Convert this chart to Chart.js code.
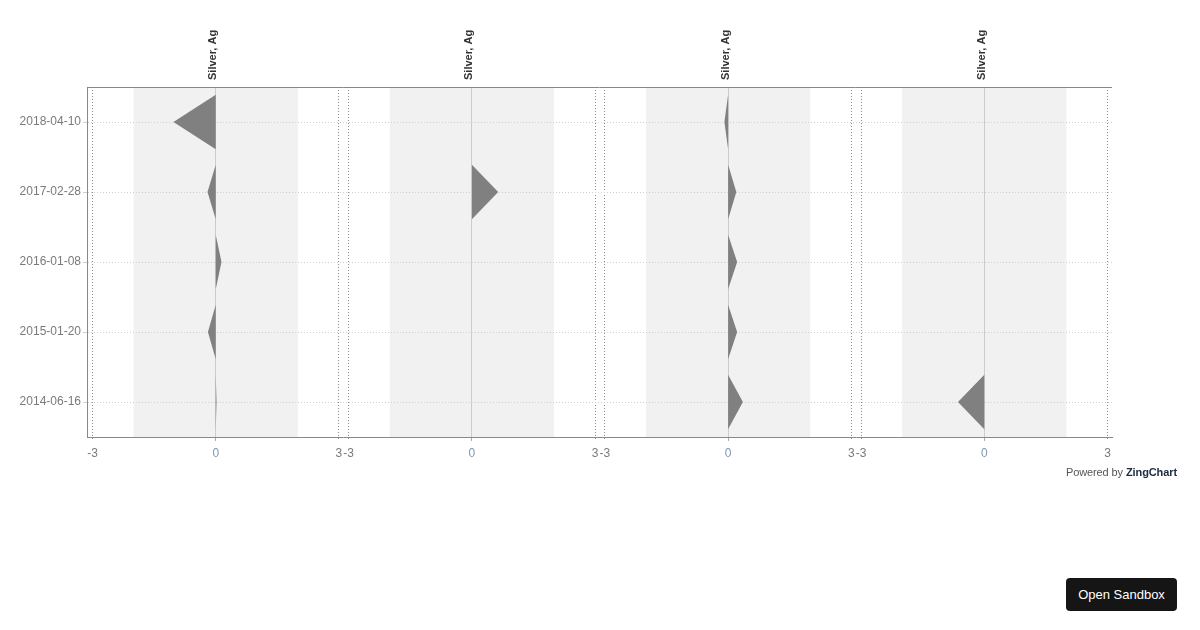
<!DOCTYPE html>
<html>
<head>
<meta charset="utf-8">
<script src="https://cdn.jsdelivr.net/npm/chart.js@4/dist/chart.umd.min.js"></script>
<style>
  html, body { margin: 0; padding: 0; background: #ffffff; overflow: hidden; }
  #wrap { position: relative; width: 1200px; height: 630px; }
  #c { position: absolute; left: 0; top: 0; }
  #powered { position: absolute; right: 23px; top: 466px; font: 11px "Liberation Sans", Arial, sans-serif; color: #555; letter-spacing: -0.1px; }
  #powered b { color: #1b2a3d; }
  #sandbox { position: absolute; left: 1066px; top: 578px; width: 111px; height: 33px; background: #151515; color: #fff;
    border-radius: 4px; font: 13px "Liberation Sans", Arial, sans-serif; line-height: 33px; text-align: center; }
</style>
</head>
<body>
<div id="wrap">
  <canvas id="c" width="1200" height="630"></canvas>
  <div id="powered">Powered by <b>ZingChart</b></div>
  <div id="sandbox">Open Sandbox</div>
</div>
<script>
// ---- data ----
const dates = ['2018-04-10', '2017-02-28', '2016-01-08', '2015-01-20', '2014-06-16'];
const panelTitles = ['Silver, Ag', 'Silver, Ag', 'Silver, Ag', 'Silver, Ag'];
const panel1 = [-1.03, -0.2, 0.14, -0.19, 0.02];
const panel2 = [0, 0.64, 0, 0, 0];
const panel3 = [-0.09, 0.2, 0.22, 0.22, 0.36];
const panel4 = [0, 0, 0, 0, -0.64];
const panelTickValues = [-3, 0, 3];
const panelTickLabels = ['-3', '0', '3'];
const bandRange = [-2, 2];

// ---- layout constants ----
const PANEL_SPAN = 6.237;
const X_MIN = -3.134;
const X_MAX = 21.82;
const HALF_H = 0.39;

const panels = [panel1, panel2, panel3, panel4];
const offsets = panels.map((_, i) => i * PANEL_SPAN);

const xTicks = [];
const xTickText = [];
const xTickZero = [];
offsets.forEach(off => {
  panelTickValues.forEach((v, k) => {
    xTicks.push(off + v);
    xTickText.push(panelTickLabels[k]);
    xTickZero.push(v === 0);
  });
});

const datasets = panels.map((vals, p) => ({
  data: vals.flatMap((v, i) => [
    { x: offsets[p], y: i + 0.5 - HALF_H },
    { x: offsets[p] + v, y: i + 0.5 },
    { x: offsets[p], y: i + 0.5 + HALF_H }
  ]),
  backgroundColor: '#808080',
  borderWidth: 0,
  pointRadius: 0,
  tension: 0,
  fill: 'shape'
}));

const decor = {
  id: 'decor',
  beforeDraw(chart) {
    const { ctx, chartArea: a, scales: { x } } = chart;
    ctx.save();
    ctx.fillStyle = '#f1f1f1';
    offsets.forEach(off => {
      const l = x.getPixelForValue(off + bandRange[0]);
      const r = x.getPixelForValue(off + bandRange[1]);
      ctx.fillRect(l, a.top, r - l, a.bottom - a.top);
    });
    ctx.restore();
  },
  afterDraw(chart) {
    const { ctx, chartArea: a, scales: { x } } = chart;
    ctx.save();
    ctx.strokeStyle = '#888888';
    ctx.lineWidth = 1;
    ctx.beginPath();
    ctx.moveTo(a.left, a.top + 0.5);
    ctx.lineTo(a.right, a.top + 0.5);
    ctx.stroke();
    ctx.fillStyle = '#333333';
    ctx.font = 'bold 11px "Liberation Sans", Arial, sans-serif';
    ctx.textAlign = 'left';
    ctx.textBaseline = 'middle';
    offsets.forEach((off, i) => {
      const px = x.getPixelForValue(off) - 2.5;
      ctx.save();
      ctx.translate(px, 80);
      ctx.rotate(-Math.PI / 2);
      ctx.fillText(panelTitles[i], 0, 0);
      ctx.restore();
    });
    ctx.restore();
  }
};

new Chart(document.getElementById('c'), {
  type: 'line',
  data: { datasets },
  plugins: [decor],
  options: {
    responsive: false,
    animation: false,
    indexAxis: 'y',
    layout: { padding: { top: 87, right: 88, left: 0, bottom: 0 } },
    plugins: { legend: { display: false }, tooltip: { enabled: false } },
    scales: {
      x: {
        type: 'linear',
        min: X_MIN,
        max: X_MAX,
        afterBuildTicks: s => { s.ticks = xTicks.map(v => ({ value: v })); },
        afterFit: s => { s.height = 193; },
        ticks: {
          autoSkip: false,
          maxRotation: 0,
          padding: 5,
          font: { size: 12, family: '"Liberation Sans", Arial, sans-serif' },
          color: c => (xTickZero[c.index] ? '#7f97b2' : '#7a7a7a'),
          callback: (v, i) => xTickText[i]
        },
        grid: {
          lineWidth: 1,
          tickLength: 4,
          color: c => (xTickZero[c.index] ? '#cccccc' : '#8a8a8a'),
          tickColor: c => (xTickZero[c.index] ? '#aaaaaa' : '#8a8a8a'),
          tickBorderDash: c => (xTickZero[c.index] ? [] : [1, 2])
        },
        border: {
          color: '#888888',
          width: 1,
          dash: c => (c.index === undefined || xTickZero[c.index] ? [] : [1, 2])
        }
      },
      y: {
        type: 'linear',
        reverse: true,
        min: 0,
        max: 5,
        afterBuildTicks: s => { s.ticks = dates.map((d, i) => ({ value: i + 0.5 })); },
        afterFit: s => { s.width = 87; },
        ticks: {
          autoSkip: false,
          padding: 2,
          font: { size: 12, family: '"Liberation Sans", Arial, sans-serif' },
          color: '#7a7a7a',
          callback: (v, i) => dates[i]
        },
        grid: {
          lineWidth: 1,
          tickLength: 4,
          color: '#cfcfcf',
          tickColor: '#cfcfcf'
        },
        border: { color: '#888888', width: 1, dash: c => (c.index === undefined ? [] : [1, 2]) }
      }
    }
  }
});
</script>
</body>
</html>
